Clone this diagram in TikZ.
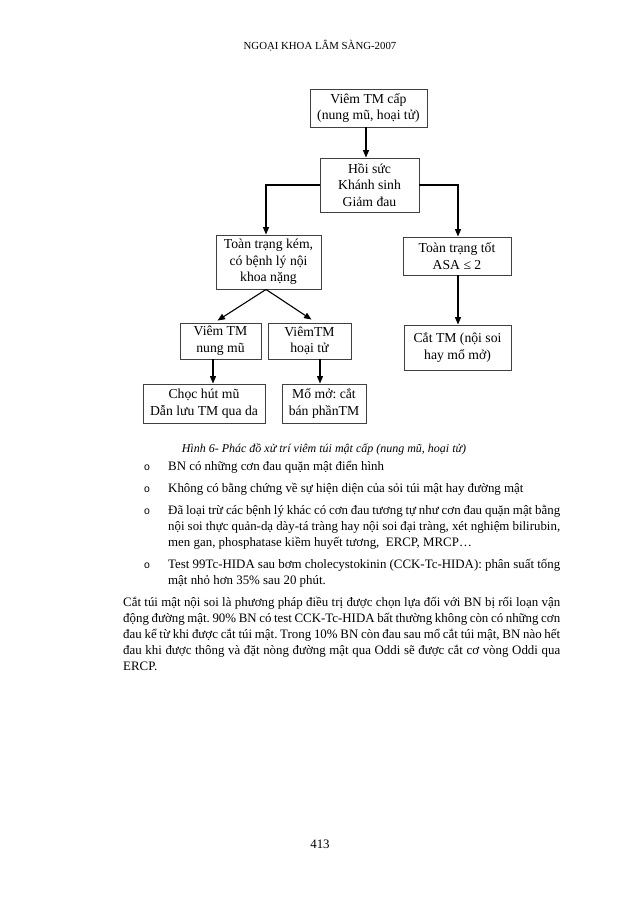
\documentclass[tikz,border=0pt]{standalone}
\usepackage{fontspec}
\setmainfont{Liberation Serif}
\newfontfamily\bulfont{Liberation Mono}
\usetikzlibrary{arrows.meta,calc}
\frenchspacing
\begin{document}
\begin{tikzpicture}[x=1pt,y=-1pt,
  box/.style={draw=black!75, line width=0.9pt, align=center, inner sep=0pt,
    font=\fontsize{13.7}{16.7}\selectfont},
  arr/.style={line width=1.1pt, -{Triangle[length=7.5pt,width=6pt]}},
  txt/.style={anchor=base west, inner sep=0pt, font=\frenchspacing\fontsize{12.9}{16}\selectfont},
  bul/.style={anchor=base, inner sep=0pt, font=\bulfont\fontsize{10.5}{12}\selectfont}
]
\useasboundingbox (0,0) rectangle (638,903);

% header and page number
\node[anchor=base, inner sep=0pt, font=\fontsize{10.8}{12}\selectfont] (hdr) at (320,49) {NGOẠI KHOA LÂM SÀNG-2007};
\node[anchor=base, inner sep=0pt, font=\fontsize{12.9}{16}\selectfont] (pg) at (320,848) {413};

% boxes
\node[box, minimum width=117pt, minimum height=38pt] (b1) at (368.5,108) {Viêm TM cấp\\(nung mũ, hoại tử)};
\node[box, minimum width=99pt, minimum height=54pt] (b2) at (369.5,185) {Hồi sức\\Khánh sinh\\Giảm đau};
\node[box, minimum width=105pt, minimum height=54pt] (b3) at (268.5,262) {Toàn trạng kém,\\có bệnh lý nội\\khoa nặng};
\node[box, minimum width=108pt, minimum height=38pt] (b4) at (457,256) {Toàn trạng tốt\\ASA ≤ 2};
\node[box, minimum width=81pt, minimum height=36pt] (b5) at (220.5,341) {Viêm TM\\nung mũ};
\node[box, minimum width=83pt, minimum height=36pt] (b6) at (309.5,341) {ViêmTM\\hoại tử};
\node[box, minimum width=122pt, minimum height=39pt] (b7) at (204,403.5) {Chọc hút mũ\\Dẫn lưu TM qua da};
\node[box, minimum width=84pt, minimum height=39pt] (b8) at (324,403.5) {Mổ mở: cắt\\bán phầnTM};
\node[box, minimum width=107pt, minimum height=45pt] (b9) at (457.5,347.5) {Cắt TM (nội soi\\hay mổ mở)};

% connectors
\coordinate (c1) at (366,0);
\coordinate (c3) at (266,0);
\coordinate (c4) at (458,0);
\coordinate (c7) at (213,0);
\coordinate (c8) at (320,0);
\draw[arr] (c1 |- b1.south) -- (c1 |- b2.north);
\draw[arr] (b2.west) -| (c3 |- b3.north);
\draw[arr] (b2.east) -| (c4 |- b4.north);
\draw[arr] (c3 |- b3.south) -- ($(b5.north)+(-3,-2)$);
\draw[arr] (c3 |- b3.south) -- ($(b6.north)+(2,-3)$);
\draw[arr] (c7 |- b5.south) -- (c7 |- b7.north);
\draw[arr] (c8 |- b6.south) -- (c8 |- b8.north);
\draw[arr] (c4 |- b4.south) -- (c4 |- b9.north);

% caption
\node[anchor=base, inner sep=0pt, font=\fontsize{12}{14}\itshape\selectfont] (cap) at (324,452) {Hình 6- Phác đồ xử trí viêm túi mật cấp (nung mũ, hoại tử)};

% bullets
\node[bul] (o1) at (147,470) {o};
\node[txt] (t1) at (168,470) {BN có những cơn đau quặn mật điển hình};
\node[bul] (o2) at (147,492) {o};
\node[txt] (t2) at (168,492) {Không có bằng chứng về sự hiện diện của sỏi túi mật hay đường mật};
\node[bul] (o3) at (147,514) {o};
\node[txt] (t3a) at (168,514) {\makebox[392pt][s]{Đã loại trừ các bệnh lý khác có cơn đau tương tự như cơn đau quặn mật bằng}};
\node[txt] (t3b) at (168,530) {\makebox[392pt][s]{nội soi thực quản-dạ dày-tá tràng hay nội soi đại tràng, xét nghiệm bilirubin,}};
\node[txt] (t3c) at (168,546) {men gan, phosphatase kiềm huyết tương,\ \ ERCP, MRCP…};
\node[bul] (o4) at (147,568) {o};
\node[txt] (t4a) at (168,568) {\makebox[392pt][s]{Test 99Tc-HIDA sau bơm cholecystokinin (CCK-Tc-HIDA): phân suất tống}};
\node[txt] (t4b) at (168,584) {mật nhỏ hơn 35\% sau 20 phút.};

% paragraph
\node[txt] (p1) at (123,606) {\makebox[437pt][s]{Cắt túi mật nội soi là phương pháp điều trị được chọn lựa đối với BN bị rối loạn vận}};
\node[txt] (p2) at (123,622) {\makebox[437pt][s]{động đường mật. 90\% BN có test CCK-Tc-HIDA bất thường không còn có những cơn}};
\node[txt] (p3) at (123,638) {\makebox[437pt][s]{đau kể từ khi được cắt túi mật. Trong 10\% BN còn đau sau mổ cắt túi mật, BN nào hết}};
\node[txt] (p4) at (123,654) {\makebox[437pt][s]{đau khi được thông và đặt nòng đường mật qua Oddi sẽ được cắt cơ vòng Oddi qua}};
\node[txt] (p5) at (123,670) {ERCP.};
\end{tikzpicture}
\end{document}
